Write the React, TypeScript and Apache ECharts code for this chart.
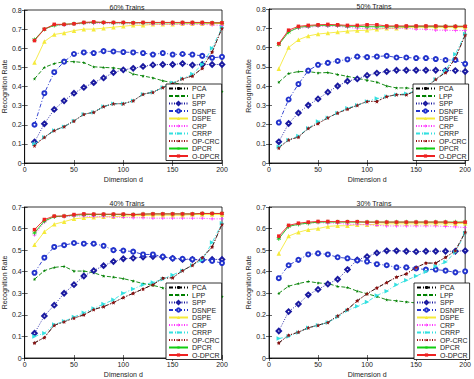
import React, { useEffect, useRef } from "react";
import * as echarts from "echarts";

const DIMS = [10, 20, 30, 40, 50, 60, 70, 80, 90, 100, 110, 120, 130, 140, 150, 160, 170, 180, 190, 200];
const METHODS = ["PCA", "LPP", "SPP", "DSNPE", "DSPE", "CRP", "CRRP", "OP-CRC", "DPCR", "O-DPCR"];
const TITLES = ["60% Trains", "50% Trains", "40% Trains", "30% Trains"];
const X_TICKS = [0, 50, 100, 150, 200];
const Y_MAX = [0.8, 0.8, 0.7, 0.7];

// 60% Trains
const PCA_60 = [0.095, 0.135, 0.17, 0.19, 0.22, 0.255, 0.265, 0.295, 0.31, 0.31, 0.325, 0.36, 0.37, 0.395, 0.415, 0.44, 0.455, 0.495, 0.58, 0.705];
const LPP_60 = [0.44, 0.5, 0.52, 0.53, 0.53, 0.525, 0.503, 0.5, 0.497, 0.49, 0.465, 0.455, 0.445, 0.43, 0.42, 0.41, 0.4, 0.395, 0.39, 0.375];
const SPP_60 = [0.11, 0.205, 0.28, 0.325, 0.365, 0.395, 0.42, 0.445, 0.473, 0.487, 0.495, 0.505, 0.513, 0.515, 0.515, 0.52, 0.512, 0.515, 0.515, 0.515];
const DSNPE_60 = [0.2, 0.365, 0.475, 0.53, 0.57, 0.578, 0.575, 0.585, 0.583, 0.58, 0.578, 0.575, 0.567, 0.575, 0.567, 0.57, 0.567, 0.56, 0.55, 0.555];
const DSPE_60 = [0.525, 0.635, 0.672, 0.68, 0.692, 0.7, 0.7, 0.705, 0.71, 0.715, 0.72, 0.72, 0.725, 0.725, 0.725, 0.728, 0.728, 0.728, 0.728, 0.73];
const CRP_60 = [0.645, 0.7, 0.72, 0.72, 0.725, 0.73, 0.73, 0.73, 0.728, 0.728, 0.728, 0.728, 0.725, 0.725, 0.725, 0.725, 0.725, 0.725, 0.722, 0.72];
const CRRP_60 = [0.1, 0.135, 0.17, 0.19, 0.22, 0.255, 0.265, 0.295, 0.31, 0.31, 0.325, 0.36, 0.37, 0.395, 0.42, 0.44, 0.465, 0.515, 0.6, 0.71];
const OPCRC_60 = [0.09, 0.135, 0.17, 0.19, 0.22, 0.255, 0.265, 0.295, 0.31, 0.31, 0.325, 0.36, 0.37, 0.395, 0.415, 0.44, 0.455, 0.495, 0.58, 0.705];
const DPCR_60 = [0.645, 0.7, 0.72, 0.725, 0.728, 0.733, 0.735, 0.735, 0.733, 0.733, 0.733, 0.733, 0.733, 0.733, 0.733, 0.733, 0.733, 0.733, 0.733, 0.733];
const ODPCR_60 = [0.64, 0.7, 0.725, 0.725, 0.728, 0.735, 0.738, 0.735, 0.735, 0.735, 0.733, 0.735, 0.735, 0.735, 0.735, 0.735, 0.735, 0.735, 0.733, 0.733];

// 50% Trains
const PCA_50 = [0.08, 0.12, 0.135, 0.18, 0.205, 0.235, 0.26, 0.28, 0.3, 0.32, 0.32, 0.345, 0.355, 0.355, 0.375, 0.39, 0.435, 0.47, 0.545, 0.665];
const LPP_50 = [0.42, 0.465, 0.475, 0.475, 0.468, 0.47, 0.46, 0.45, 0.44, 0.43, 0.42, 0.4, 0.39, 0.39, 0.385, 0.375, 0.365, 0.355, 0.345, 0.335];
const SPP_50 = [0.11, 0.205, 0.26, 0.3, 0.333, 0.368, 0.4, 0.425, 0.437, 0.455, 0.467, 0.475, 0.482, 0.482, 0.482, 0.482, 0.482, 0.48, 0.48, 0.475];
const DSNPE_50 = [0.21, 0.33, 0.41, 0.48, 0.51, 0.52, 0.53, 0.538, 0.553, 0.55, 0.553, 0.557, 0.548, 0.548, 0.545, 0.545, 0.54, 0.535, 0.535, 0.515];
const DSPE_50 = [0.49, 0.6, 0.64, 0.66, 0.67, 0.675, 0.68, 0.685, 0.688, 0.69, 0.695, 0.7, 0.7, 0.705, 0.705, 0.705, 0.705, 0.705, 0.705, 0.705];
const CRP_50 = [0.62, 0.685, 0.7, 0.705, 0.71, 0.71, 0.71, 0.705, 0.7, 0.7, 0.7, 0.7, 0.7, 0.7, 0.695, 0.695, 0.69, 0.69, 0.688, 0.688];
const CRRP_50 = [0.085, 0.12, 0.14, 0.18, 0.215, 0.235, 0.26, 0.285, 0.3, 0.32, 0.335, 0.345, 0.355, 0.36, 0.375, 0.4, 0.435, 0.48, 0.565, 0.67];
const OPCRC_50 = [0.078, 0.12, 0.135, 0.18, 0.205, 0.235, 0.26, 0.28, 0.3, 0.32, 0.32, 0.345, 0.355, 0.355, 0.375, 0.39, 0.435, 0.47, 0.545, 0.665];
const DPCR_50 = [0.615, 0.68, 0.705, 0.71, 0.715, 0.715, 0.715, 0.71, 0.71, 0.708, 0.708, 0.708, 0.708, 0.708, 0.71, 0.71, 0.71, 0.71, 0.71, 0.71];
const ODPCR_50 = [0.62, 0.69, 0.71, 0.715, 0.718, 0.72, 0.718, 0.715, 0.715, 0.718, 0.718, 0.712, 0.712, 0.712, 0.712, 0.712, 0.712, 0.71, 0.71, 0.71];

// 40% Trains
const PCA_40 = [0.07, 0.095, 0.152, 0.168, 0.185, 0.2, 0.225, 0.238, 0.257, 0.28, 0.3, 0.32, 0.34, 0.37, 0.372, 0.405, 0.43, 0.465, 0.515, 0.62];
const LPP_40 = [0.365, 0.405, 0.42, 0.425, 0.403, 0.403, 0.395, 0.38, 0.375, 0.368, 0.357, 0.345, 0.337, 0.325, 0.315, 0.31, 0.305, 0.3, 0.295, 0.285];
const SPP_40 = [0.115, 0.195, 0.245, 0.3, 0.34, 0.38, 0.405, 0.428, 0.447, 0.46, 0.463, 0.468, 0.47, 0.468, 0.462, 0.457, 0.457, 0.455, 0.457, 0.457];
const DSNPE_40 = [0.395, 0.465, 0.515, 0.523, 0.533, 0.53, 0.53, 0.52, 0.5, 0.498, 0.493, 0.48, 0.48, 0.47, 0.462, 0.46, 0.457, 0.455, 0.45, 0.44];
const DSPE_40 = [0.525, 0.585, 0.62, 0.632, 0.645, 0.65, 0.652, 0.655, 0.655, 0.658, 0.66, 0.66, 0.662, 0.662, 0.662, 0.662, 0.665, 0.665, 0.665, 0.665];
const CRP_40 = [0.57, 0.63, 0.655, 0.655, 0.658, 0.658, 0.655, 0.655, 0.653, 0.652, 0.65, 0.65, 0.648, 0.648, 0.648, 0.648, 0.648, 0.648, 0.645, 0.645];
const CRRP_40 = [0.1, 0.115, 0.155, 0.17, 0.19, 0.21, 0.23, 0.25, 0.27, 0.3, 0.32, 0.34, 0.35, 0.365, 0.385, 0.405, 0.43, 0.455, 0.535, 0.625];
const OPCRC_40 = [0.07, 0.095, 0.152, 0.168, 0.185, 0.2, 0.225, 0.238, 0.257, 0.28, 0.3, 0.32, 0.34, 0.37, 0.372, 0.405, 0.43, 0.465, 0.515, 0.62];
const DPCR_40 = [0.58, 0.635, 0.655, 0.658, 0.662, 0.665, 0.665, 0.665, 0.665, 0.665, 0.665, 0.667, 0.668, 0.668, 0.668, 0.668, 0.668, 0.67, 0.67, 0.67];
const ODPCR_40 = [0.595, 0.642, 0.658, 0.658, 0.665, 0.668, 0.667, 0.667, 0.667, 0.667, 0.665, 0.667, 0.668, 0.668, 0.668, 0.668, 0.668, 0.67, 0.67, 0.67];

// 30% Trains
const PCA_30 = [0.07, 0.105, 0.12, 0.14, 0.152, 0.165, 0.195, 0.225, 0.265, 0.298, 0.325, 0.35, 0.375, 0.39, 0.42, 0.44, 0.44, 0.467, 0.497, 0.583];
const LPP_30 = [0.3, 0.333, 0.345, 0.355, 0.348, 0.345, 0.332, 0.327, 0.31, 0.298, 0.285, 0.27, 0.265, 0.26, 0.255, 0.25, 0.245, 0.24, 0.235, 0.225];
const SPP_30 = [0.125, 0.215, 0.25, 0.293, 0.318, 0.343, 0.365, 0.41, 0.455, 0.47, 0.487, 0.497, 0.497, 0.495, 0.493, 0.495, 0.495, 0.495, 0.495, 0.497];
const DSNPE_30 = [0.37, 0.43, 0.455, 0.48, 0.485, 0.48, 0.467, 0.462, 0.452, 0.447, 0.435, 0.43, 0.42, 0.42, 0.415, 0.41, 0.41, 0.405, 0.397, 0.402];
const DSPE_30 = [0.485, 0.565, 0.583, 0.595, 0.6, 0.61, 0.613, 0.613, 0.618, 0.618, 0.62, 0.622, 0.622, 0.622, 0.622, 0.622, 0.622, 0.622, 0.622, 0.625];
const CRP_30 = [0.555, 0.61, 0.62, 0.625, 0.628, 0.625, 0.625, 0.62, 0.62, 0.618, 0.615, 0.612, 0.612, 0.612, 0.612, 0.612, 0.612, 0.61, 0.608, 0.605];
const CRRP_30 = [0.09, 0.1, 0.118, 0.14, 0.152, 0.165, 0.19, 0.22, 0.24, 0.26, 0.29, 0.31, 0.34, 0.36, 0.38, 0.4, 0.425, 0.445, 0.49, 0.58];
const OPCRC_30 = [0.07, 0.105, 0.12, 0.14, 0.152, 0.165, 0.195, 0.225, 0.265, 0.298, 0.325, 0.35, 0.375, 0.39, 0.42, 0.44, 0.44, 0.467, 0.497, 0.583];
const DPCR_30 = [0.553, 0.61, 0.62, 0.625, 0.63, 0.63, 0.63, 0.63, 0.63, 0.63, 0.63, 0.63, 0.63, 0.63, 0.63, 0.63, 0.63, 0.63, 0.63, 0.63];
const ODPCR_30 = [0.565, 0.615, 0.625, 0.63, 0.633, 0.633, 0.632, 0.632, 0.632, 0.63, 0.63, 0.63, 0.63, 0.63, 0.63, 0.63, 0.63, 0.63, 0.628, 0.63];

const PANEL_DATA = [
  [PCA_60, LPP_60, SPP_60, DSNPE_60, DSPE_60, CRP_60, CRRP_60, OPCRC_60, DPCR_60, ODPCR_60],
  [PCA_50, LPP_50, SPP_50, DSNPE_50, DSPE_50, CRP_50, CRRP_50, OPCRC_50, DPCR_50, ODPCR_50],
  [PCA_40, LPP_40, SPP_40, DSNPE_40, DSPE_40, CRP_40, CRRP_40, OPCRC_40, DPCR_40, ODPCR_40],
  [PCA_30, LPP_30, SPP_30, DSNPE_30, DSPE_30, CRP_30, CRRP_30, OPCRC_30, DPCR_30, ODPCR_30],
];

const STAR = "path://M50,0 L61,35 L98,35 L68,57 L79,91 L50,70 L21,91 L32,57 L2,35 L39,35 Z";
const PLUS = "path://M4,0 L6,0 L6,4 L10,4 L10,6 L6,6 L6,10 L4,10 L4,6 L0,6 L0,4 L4,4 Z";
const ASTER = "path://M4.3,0 L5.7,0 L5.7,3.6 L9,2 L9.6,3.2 L6.4,5 L9.6,6.8 L9,8 L5.7,6.4 L5.7,10 L4.3,10 L4.3,6.4 L1,8 L0.4,6.8 L3.6,5 L0.4,3.2 L1,2 L4.3,3.6 Z";

const DASHDOT = [4, 2, 1, 2];
const STYLES: any[] = [
  { color: "#000000", dash: DASHDOT, symbol: "circle", size: 2.5, rotate: 0 },
  { color: "#008000", dash: [4, 2], symbol: STAR, size: 3.5, rotate: 0 },
  { color: "#1a1aa0", dash: [1, 1.5], symbol: "emptyDiamond", size: 4.5, rotate: 0 },
  { color: "#2233cc", dash: DASHDOT, symbol: "emptyCircle", size: 4, rotate: 0 },
  { color: "#f5ea3a", dash: "solid", symbol: "triangle", size: 4.5, rotate: 0 },
  { color: "#ff33ff", dash: [1, 1.5], symbol: PLUS, size: 3.5, rotate: 0 },
  { color: "#33e0e0", dash: DASHDOT, symbol: "triangle", size: 4.5, rotate: -90 },
  { color: "#991111", dash: [1, 1.5], symbol: STAR, size: 4.5, rotate: 0 },
  { color: "#11cc11", dash: "solid", symbol: ASTER, size: 4.5, rotate: 0 },
  { color: "#ee2222", dash: "solid", symbol: "rect", size: 3.5, rotate: 0 },
];

const GRIDS = [
  { left: 23, top: 10, width: 199, height: 153 },
  { left: 269, top: 9, width: 200, height: 154 },
  { left: 23, top: 207, width: 199, height: 154 },
  { left: 269, top: 207, width: 200, height: 154 },
];
const LEGEND_POS = [
  { left: 166, top: 84 },
  { left: 413, top: 84 },
  { left: 166, top: 283 },
  { left: 414, top: 283 },
];
const TITLE_POS = [
  { x: 122, y: -1 },
  { x: 369, y: -2 },
  { x: 122, y: 195 },
  { x: 369, y: 195 },
];

const FONT = "Liberation Sans";

export default function App() {
  const ref = useRef<HTMLDivElement>(null);
  useEffect(() => {
    if (!ref.current) return;
    const chart = echarts.init(ref.current, undefined, { renderer: "svg" });
    const xAxis: any[] = [];
    const yAxis: any[] = [];
    GRIDS.forEach((_, i) => {
      xAxis.push({
        type: "value", gridIndex: i, min: 0, max: 200, interval: 50,
        name: "Dimension d", nameLocation: "middle", nameGap: 13,
        nameTextStyle: { fontSize: 7, color: "#222", fontFamily: FONT },
        axisLine: { show: true, lineStyle: { color: "#000", width: 0.8 } },
        axisTick: { show: true, inside: true, length: 3, lineStyle: { color: "#000", width: 0.6 } },
        axisLabel: { fontSize: 7, color: "#222", margin: 3, fontFamily: FONT,
          formatter: (v: number) => (X_TICKS.includes(v) ? String(v) : "") },
        splitLine: { show: false },
      });
      yAxis.push({
        type: "value", gridIndex: i, min: 0, max: Y_MAX[i], interval: 0.1,
        name: "Recognition Rate", nameLocation: "middle", nameGap: 15,
        nameTextStyle: { fontSize: 7, color: "#222", fontFamily: FONT },
        axisLine: { show: true, lineStyle: { color: "#000", width: 0.8 } },
        axisTick: { show: true, inside: true, length: 3, lineStyle: { color: "#000", width: 0.6 } },
        axisLabel: { fontSize: 7, color: "#222", margin: 3, fontFamily: FONT,
          formatter: (v: number) => (v === 0 ? "0" : v.toFixed(1)) },
        splitLine: { show: false },
      });
    });
    GRIDS.forEach((_, i) => {
      xAxis.push({
        type: "value", gridIndex: i, min: 0, max: 200, interval: 50, position: "top",
        axisLine: { show: false }, axisLabel: { show: false }, splitLine: { show: false },
        axisTick: { show: true, inside: true, length: 3, lineStyle: { color: "#000", width: 0.6 } },
      });
      yAxis.push({
        type: "value", gridIndex: i, min: 0, max: Y_MAX[i], interval: 0.1, position: "right",
        axisLine: { show: false }, axisLabel: { show: false }, splitLine: { show: false },
        axisTick: { show: true, inside: true, length: 3, lineStyle: { color: "#000", width: 0.6 } },
      });
    });
    const series: any[] = [];
    PANEL_DATA.forEach((panel, i) => {
      panel.forEach((vals, j) => {
        const st = STYLES[j];
        series.push({
          type: "line", name: METHODS[j], xAxisIndex: i, yAxisIndex: i,
          data: DIMS.map((d, k) => [d, vals[k]]),
          symbol: st.symbol, symbolSize: st.size, symbolRotate: st.rotate,
          showAllSymbol: true,
          lineStyle: { color: st.color, width: 0.9, type: st.dash },
          itemStyle: { color: st.color, borderColor: st.color, borderWidth: st.symbol.startsWith("empty") ? 0.8 : 0 },
          emphasis: { disabled: true },
          z: 2 + j,
        });
      });
    });
    chart.setOption({
      animation: false,
      backgroundColor: "#ffffff",
      title: TITLES.map((t, i) => ({
        text: t, left: TITLE_POS[i].x, top: TITLE_POS[i].y, textAlign: "center",
        textStyle: { fontSize: 7, fontWeight: "normal", color: "#222", fontFamily: FONT },
      })),
      grid: GRIDS.map((g) => ({ ...g, show: true, borderColor: "#000", borderWidth: 0.8, backgroundColor: "#fff" })),
      legend: LEGEND_POS.map((p) => ({
        data: METHODS, orient: "vertical", left: p.left, top: p.top,
        itemWidth: 19, itemHeight: 4, itemGap: 0.5, padding: [1, 2, 1, 2],
        backgroundColor: "#fff", borderColor: "#000", borderWidth: 0.8, borderRadius: 0,
        textStyle: { fontSize: 7, lineHeight: 7, color: "#222", fontFamily: FONT, padding: [0, 0, 0, -1] },
        selectedMode: false, z: 20,
      })),
      xAxis, yAxis, series,
    });
    return () => chart.dispose();
  }, []);
  return <div ref={ref} style={{ position: "absolute", left: 0, top: 0, width: 474, height: 379 }} />;
}
